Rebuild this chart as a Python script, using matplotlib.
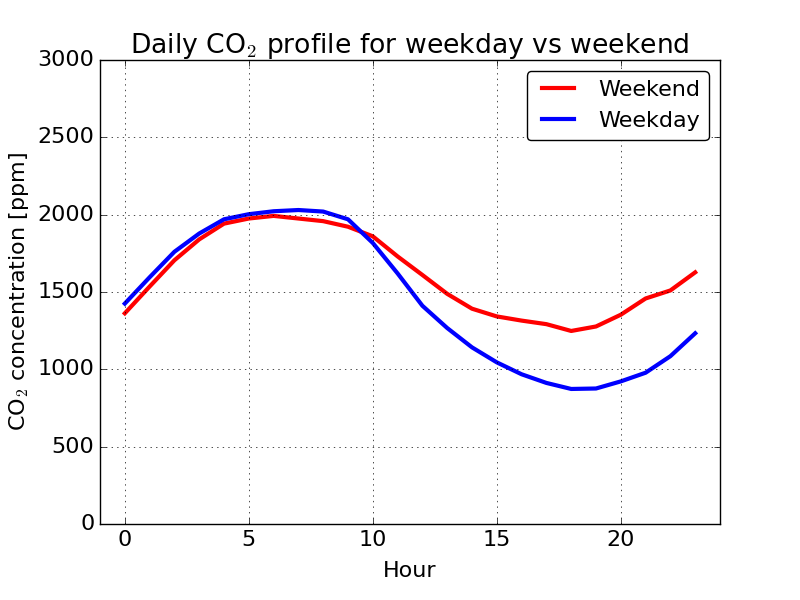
import matplotlib
matplotlib.use("Agg")
import matplotlib.pyplot as plt

plt.style.use('classic')
plt.rcParams['font.size'] = 16

hours = list(range(24))
weekend = [1362, 1535, 1705, 1840, 1942, 1975, 1992, 1975, 1958, 1922, 1860, 1730,
           1610, 1488, 1392, 1342, 1315, 1292, 1248, 1277, 1353, 1458, 1510, 1627]
weekday = [1425, 1595, 1760, 1878, 1970, 2003, 2022, 2030, 2020, 1970, 1817, 1620,
           1411, 1267, 1142, 1045, 968, 912, 873, 876, 922, 978, 1085, 1233]

fig = plt.figure(figsize=(8, 6), dpi=100)
ax = fig.add_axes([0.125, 0.1267, 0.775, 0.7733])
ax.plot(hours, weekend, color='red', lw=3, label='Weekend')
ax.plot(hours, weekday, color='blue', lw=3, label='Weekday')
ax.set_xlim(-1, 24)
ax.set_ylim(0, 3000)
ax.grid(True)
ax.set_title('Daily CO$_2$ profile for weekday vs weekend', fontsize=19.2)
ax.set_xlabel('Hour', fontsize=16, labelpad=8)
ax.set_ylabel('CO$_2$ concentration [ppm]', fontsize=16)
ax.tick_params(labelsize=16)
ax.legend(loc='upper right', fancybox=True, fontsize=16)
fig.savefig('out.png', dpi=100)
